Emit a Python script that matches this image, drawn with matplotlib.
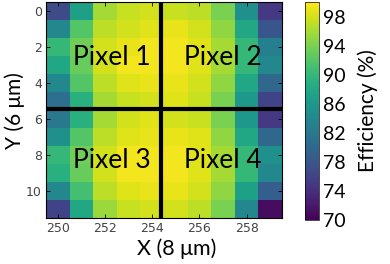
import numpy as np
import matplotlib.pyplot as plt

# %% Data (efficiency in %, rows = Y index 0..11, columns = X 250..259)
x_pos = [250, 251, 252, 253, 254, 255, 256, 257, 258, 259]
y_pos = list(range(12))

col_250 = [77, 84, 90, 88, 84, 81, 82, 85, 90, 89, 84, 76]
col_251 = [87, 92, 93.5, 93, 92, 89, 89, 92, 93.5, 93, 91, 88]
col_252 = [96, 97, 98, 98, 97, 96, 96, 97, 98, 98, 97, 95.5]
col_253 = [97.5, 98, 99, 99.5, 98.5, 97.5, 98, 98.5, 99.5, 99.5, 98.5, 97.5]
col_254 = [98, 98.5, 99.5, 99.5, 99, 98, 98.5, 99, 99.5, 99.5, 99, 98]
col_255 = [97.5, 99, 99.5, 99.5, 99, 98.5, 98, 99, 99.5, 99.5, 99, 98]
col_256 = [97, 98, 98.5, 98.5, 98, 97.5, 97.5, 98.5, 98.5, 98.5, 98, 97]
col_257 = [94, 95, 96, 96, 95, 94, 94, 95, 96, 96, 95, 94]
col_258 = [85, 88, 90, 90, 88, 86, 86, 88, 90, 90, 87, 84]
col_259 = [75, 78, 83, 84, 80, 76, 75, 80, 85, 84, 79, 71]

pixel_labels = ["Pixel 1", "Pixel 2", "Pixel 3", "Pixel 4"]
label_x = [252.3, 257.0, 252.3, 257.0]
label_y = [2.6, 2.6, 8.3, 8.3]
cbar_ticks = [70, 74, 78, 82, 86, 90, 94, 98]

eff = np.column_stack([col_250, col_251, col_252, col_253, col_254,
                       col_255, col_256, col_257, col_258, col_259])

# %% Plot
fig = plt.figure(figsize=(3.9, 2.64), dpi=100)
ax = fig.add_axes([0.118, 0.174, 0.605, 0.818])
cax = fig.add_axes([0.782, 0.167, 0.036, 0.825])

im = ax.imshow(eff, cmap="viridis", vmin=70, vmax=100, aspect="auto",
               interpolation="nearest",
               extent=[x_pos[0] - 0.5, x_pos[-1] + 0.5, y_pos[-1] + 0.5, y_pos[0] - 0.5])

ax.axvline(254.38, color="black", lw=3)
ax.axhline(5.45, color="black", lw=3)

for lab, lx, ly in zip(pixel_labels, label_x, label_y):
    ax.text(lx, ly, lab, ha="center", va="center", fontsize=19, family="Lato", color="black")

ax.set_xticks([250, 252, 254, 256, 258])
ax.set_yticks([0, 2, 4, 6, 8, 10])
ax.tick_params(labelsize=9, labelcolor="#444444", length=3, width=0.6,
               top=True, right=True, direction="in", pad=3)
ax.set_xlabel("X (8 μm)", fontsize=15.5, family="Lato")
ax.xaxis.set_label_coords(0.555, -0.095)
ax.set_ylabel("Y (6 μm)", fontsize=15, family="Lato", labelpad=1)

cb = fig.colorbar(im, cax=cax, ticks=cbar_ticks)
cb.outline.set_linewidth(0.5)
cb.ax.tick_params(labelsize=14, length=0, pad=3)
for t in cb.ax.get_yticklabels():
    t.set_family("Lato")
cb.set_label("Efficiency (%)", fontsize=15, family="Lato", labelpad=8)

fig.savefig("out.png", dpi=100)
